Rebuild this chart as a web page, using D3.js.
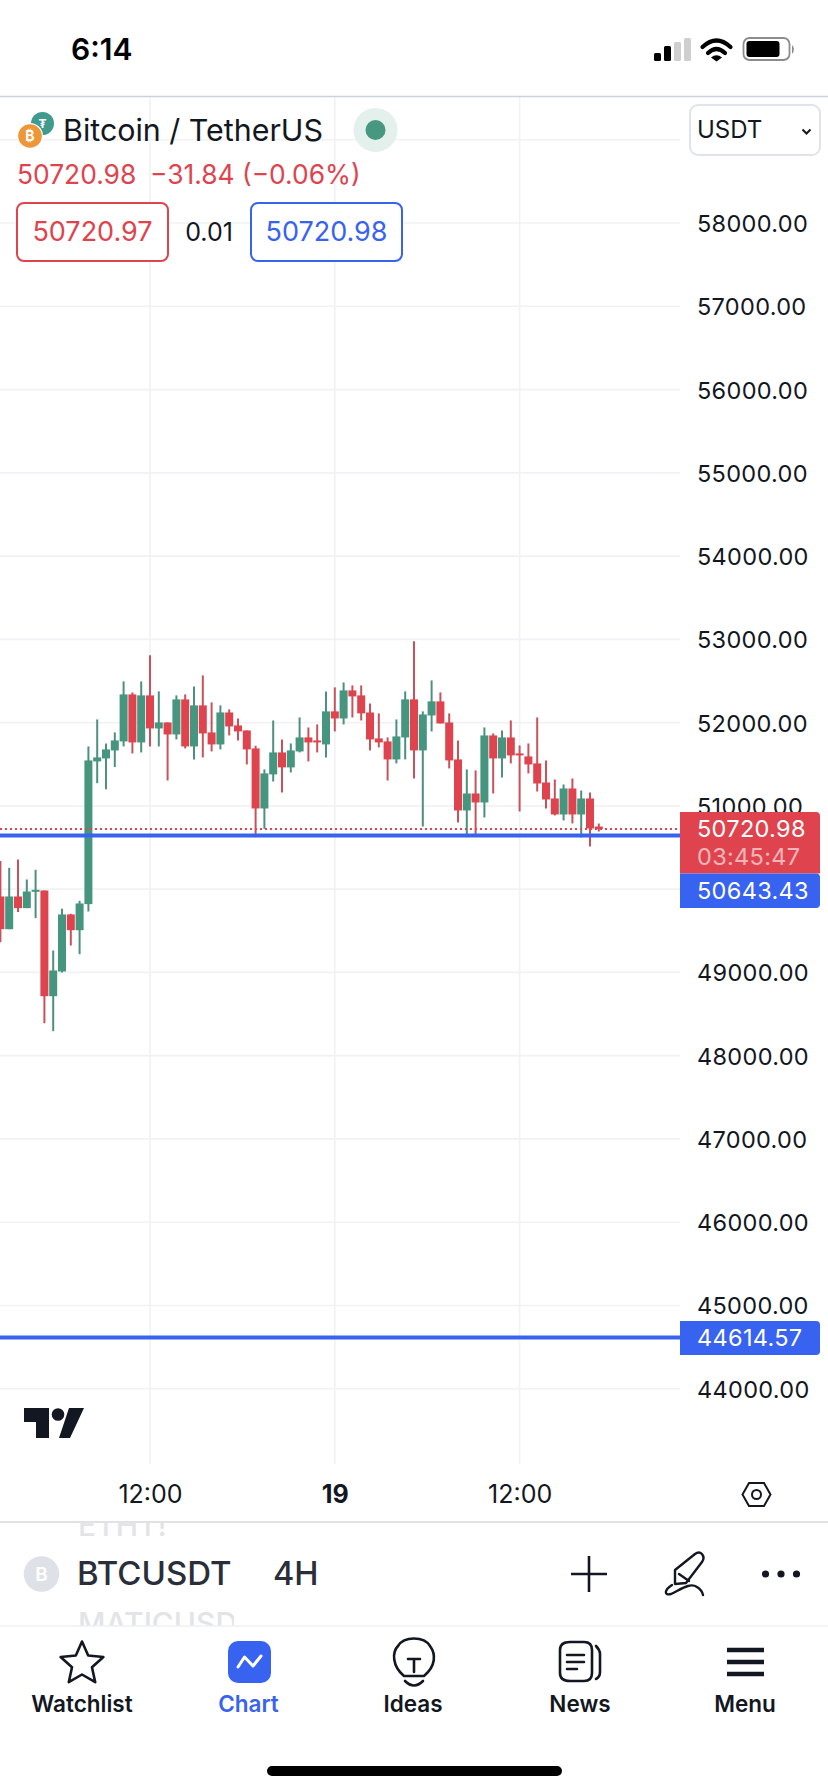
<!DOCTYPE html>
<html><head><meta charset="utf-8">
<script src="https://cdn.jsdelivr.net/npm/d3@7"></script>
<style>
html,body{margin:0;padding:0;background:#fff;overflow:hidden}
svg{display:block}
text{font-family:Inter,"Noto Sans",sans-serif}
</style></head><body>
<svg id="c" width="828" height="1792"></svg>
<script>
const priceTicks=[44000,45000,46000,47000,48000,49000,50000,51000,52000,53000,54000,55000,56000,57000,58000,59000];
const priceLabelMax=58000;
const timeTicks=[17,38,59];
const timeLabels={17:"12:00",38:"19",59:"12:00"};
const opens=[49912,49519,49912,49772,49976,49984,48714,49011,49696,49507,49820,51534,51570,51666,51774,52339,51762,52327,51930,52002,51858,52279,51714,52207,51882,51738,52122,51966,51906,51690,50969,51378,51642,51462,51654,51822,51786,51738,52135,52050,52387,52327,52122,51810,51774,51558,51822,52279,51666,52086,52255,52002,51558,50945,51149,51041,51846,51570,51822,51630,51594,51510,51281,51089,50897,51209,50897,51089,50752];
const closes=[49519,49912,49772,49972,49992,48714,49023,49696,49507,49828,51546,51582,51678,51786,52339,51762,52327,51930,52002,51858,52279,51714,52207,51870,51738,52122,51954,51894,51678,50969,51390,51642,51462,51666,51822,51762,51766,52135,52050,52387,52315,52111,51798,51762,51558,51834,52279,51666,52098,52255,51990,51546,50945,51149,51041,51846,51570,51822,51606,51610,51498,51269,51077,50897,51209,50897,51089,50728,50720.98];
const highs=[50337,50256,50357,50116,50232,49984,49263,49764,49704,49860,51714,52038,51750,51882,52495,52363,52495,52808,52375,52002,52327,52339,52435,52567,52243,52207,52159,52050,51906,51722,51438,52026,51798,51750,52062,51942,51978,52375,52423,52483,52447,52447,52231,52111,51822,52038,52375,52976,52135,52507,52363,52111,51786,51438,51426,51942,51870,51906,52026,51726,51750,52062,51546,51317,51257,51329,51185,51161,50788];
const lows=[49363,49519,49724,49772,49652,48390,48294,48999,49323,49219,49732,51273,51201,51466,51714,51630,51642,51714,51714,51305,51798,51690,51558,51582,51654,51678,51846,51786,51498,50624,50724,51293,51161,51401,51642,51534,51642,51582,51894,51978,52062,52026,51666,51702,51305,51510,51558,51329,50752,51894,51990,51450,50800,50624,50644,50861,51149,51341,51510,50933,51390,51173,50969,50885,50825,50789,50620,50512,50692];
const lastPrice=50720.98, alertHigh=50643.43, alertLow=44614.57;

const INK="#131722",GREEN="#46957f",RED="#df444e",WG="#4c907e",WR="#c8525b",BLUE="#3862f0",GRID="#f1f2f5";
const svg=d3.select("#c");
const x=d3.scaleLinear().domain([17,59]).range([150,519.6]);
const y=d3.scaleLinear().domain([44000,59000]).range([1388.7,139.8]);
const AX=680;
const idx=d3.range(opens.length);

// grid
svg.append("g").selectAll("line").data(priceTicks).join("line")
 .attr("x1",0).attr("x2",AX).attr("y1",d=>y(d)).attr("y2",d=>y(d)).attr("stroke",GRID).attr("stroke-width",1.6);
svg.append("g").selectAll("line").data(timeTicks).join("line")
 .attr("x1",d=>x(d)).attr("x2",d=>x(d)).attr("y1",97).attr("y2",1464).attr("stroke",GRID).attr("stroke-width",1.6);

// candles
const cg=svg.append("g");
cg.selectAll("line").data(idx).join("line")
 .attr("x1",i=>x(i)).attr("x2",i=>x(i)).attr("y1",i=>y(highs[i])).attr("y2",i=>y(lows[i]))
 .attr("stroke",i=>closes[i]>=opens[i]?WG:WR).attr("stroke-width",2);
cg.selectAll("rect").data(idx).join("rect")
 .attr("x",i=>x(i)-4).attr("width",8)
 .attr("y",i=>y(Math.max(opens[i],closes[i])))
 .attr("height",i=>Math.max(2,Math.abs(y(opens[i])-y(closes[i]))))
 .attr("fill",i=>closes[i]>=opens[i]?GREEN:RED);

// price lines
[alertHigh,alertLow].forEach(v=>svg.append("line").attr("x1",0).attr("x2",AX).attr("y1",y(v)).attr("y2",y(v)).attr("stroke",BLUE).attr("stroke-width",4));
svg.append("line").attr("x1",0).attr("x2",AX).attr("y1",y(lastPrice)).attr("y2",y(lastPrice)).attr("stroke",RED).attr("stroke-width",2).attr("stroke-dasharray","2 3");

// axes
const axY=svg.append("g").attr("transform",`translate(${AX},0)`)
 .call(d3.axisRight(y).tickValues(priceTicks.filter(d=>d<=priceLabelMax)).tickFormat(d3.format(".2f")).tickSize(0).tickPadding(17));
axY.select(".domain").remove();
axY.selectAll("text").attr("font-family","Inter").attr("font-size",23.5).attr("letter-spacing",".32").attr("fill",INK).attr("dy",".36em");
const axX=svg.append("g").attr("transform","translate(0,1478)")
 .call(d3.axisBottom(x).tickValues(timeTicks).tickFormat(d=>timeLabels[d]).tickSize(0).tickPadding(0));
axX.select(".domain").remove();
axX.selectAll("text").attr("font-family","Inter").attr("font-size",25).attr("fill",INK).attr("dy","25px")
 .attr("font-weight",d=>d===38?700:400);

function tag(top,h,color,r1){
 svg.append("path").attr("fill",color).attr("d",`M${AX} ${top}H816q4 0 4 4V${top+h-(r1?4:0)}${r1?"q0 4 -4 4":""}H${AX}Z`);
}
function txt(s,xx,yy,size,fill,opt={}){
 const t=svg.append("text").text(s).attr("x",xx).attr("y",yy).attr("font-size",size).attr("fill",fill);
 if(opt.anchor)t.attr("text-anchor",opt.anchor);
 if(opt.weight)t.attr("font-weight",opt.weight);
 if(opt.op)t.attr("opacity",opt.op);
 if(opt.clip)t.attr("clip-path",opt.clip);
 if(opt.ls)t.attr("letter-spacing",opt.ls);
 return t;
}
tag(812,61.5,RED,false);
tag(873.5,34.5,BLUE,true);
tag(y(alertLow)-16.5,34,BLUE,true);
const fmt=d3.format(".2f");
txt(fmt(lastPrice),697,837,23.5,"#fff",{ls:".32"});
txt("03:45:47",697,865,23.5,"#fff",{op:.6,ls:".32"});
txt(fmt(alertHigh),697,898.5,23.5,"#fff",{ls:".32"});
txt(fmt(alertLow),697,y(alertLow)+8,23.5,"#fff",{ls:".32"});

// status bar
txt("6:14",71,60,30,"#000",{weight:600});
[[654,53,7,8,"#000"],[664,46,7,15,"#000"],[674,42,7,19,"#cfcfcf"],[684,38,7,23,"#cfcfcf"]].forEach(b=>
 svg.append("rect").attr("x",b[0]).attr("y",b[1]).attr("width",b[2]).attr("height",b[3]).attr("rx",1.5).attr("fill",b[4]));
svg.append("g").attr("fill","none").attr("stroke","#000").attr("stroke-width",4.2).attr("stroke-linecap","round").selectAll("path")
 .data(["M702.5 47Q716.5 34 730.5 47","M708 53Q716.5 45 725 53"]).join("path").attr("d",d=>d);
svg.append("path").attr("d","M711 57.5Q716.5 53 722 57.5L716.5 61.5Z").attr("fill","#000");
svg.append("rect").attr("x",743.5).attr("y",38).attr("width",46).attr("height",22).attr("rx",6).attr("fill","none").attr("stroke","#8c8c8c").attr("stroke-width",1.8);
svg.append("rect").attr("x",746.5).attr("y",41).attr("width",33).attr("height",16).attr("rx",3).attr("fill","#000");
svg.append("path").attr("d","M792 45Q796 49 792 54Z").attr("fill","#8c8c8c");
svg.append("line").attr("x1",0).attr("x2",828).attr("y1",96.5).attr("y2",96.5).attr("stroke","#ccd1da").attr("stroke-width",1.4);

// header
svg.append("circle").attr("cx",42.5).attr("cy",123.5).attr("r",11.5).attr("fill","#3f9b8e");
txt("₮",42.5,128,12,"#fff",{anchor:"middle",weight:700});
svg.append("circle").attr("cx",30).attr("cy",136).attr("r",13).attr("fill","#fff");
svg.append("circle").attr("cx",30).attr("cy",136).attr("r",11.8).attr("fill","#ee9738");
txt("₿",30,141,14,"#fff",{anchor:"middle",weight:700});
txt("Bitcoin / TetherUS",63,141,30.4,INK);
svg.append("circle").attr("cx",375.5).attr("cy",130).attr("r",22).attr("fill","#e3f0ec");
svg.append("circle").attr("cx",375.5).attr("cy",130).attr("r",10).attr("fill","#489781");
svg.append("rect").attr("x",690).attr("y",105).attr("width",130).attr("height",50).attr("rx",8).attr("fill","#fff").attr("stroke","#e0e3eb").attr("stroke-width",2);
txt("USDT",697,138,24,INK);
svg.append("path").attr("d","M802.5 129.5L806.5 133.5L810.5 129.5").attr("fill","none").attr("stroke",INK).attr("stroke-width",2);
txt("50720.98",17,184,26.4,RED);
txt("−31.84 (−0.06%)",150,184,26.4,RED);
svg.append("rect").attr("x",17).attr("y",203).attr("width",151).attr("height",58).attr("rx",7).attr("fill","#fff").attr("stroke",RED).attr("stroke-width",2);
txt("50720.97",92.5,241,27,RED,{anchor:"middle"});
txt("0.01",209,241,25,INK,{anchor:"middle"});
svg.append("rect").attr("x",251).attr("y",203).attr("width",151).attr("height",58).attr("rx",7).attr("fill","#fff").attr("stroke",BLUE).attr("stroke-width",2);
txt("50720.98",326.5,241,27,BLUE,{anchor:"middle"});

// TV logo
svg.append("path").attr("fill",INK).attr("d","M24 1408H49V1438H36V1422H24Z");
svg.append("circle").attr("cx",58).attr("cy",1414.5).attr("r",6.3).attr("fill",INK);
svg.append("path").attr("fill",INK).attr("d","M69 1408H84L70 1438H59Z");

// hex settings
svg.append("path").attr("fill","none").attr("stroke",INK).attr("stroke-width",2).attr("d","M749 1483H764L770.5 1494.5L764 1506H749L742.5 1494.5Z");
svg.append("circle").attr("cx",756.5).attr("cy",1494.5).attr("r",4.5).attr("fill","none").attr("stroke",INK).attr("stroke-width",2);

// toolbar
svg.append("line").attr("x1",0).attr("x2",828).attr("y1",1522).attr("y2",1522).attr("stroke","#d6d8dd").attr("stroke-width",1.4);
const defs=svg.append("defs");
defs.append("clipPath").attr("id","c1").append("rect").attr("x",0).attr("y",1523).attr("width",828).attr("height",30);
defs.append("clipPath").attr("id","c2").append("rect").attr("x",0).attr("y",1600).attr("width",234).attr("height",26);
txt("ETHT!",78,1536,30,"#e2e4e8",{clip:"url(#c1)",weight:500});
txt("MATICUSDT",78,1634,30,"#e2e4e8",{clip:"url(#c2)",weight:500});
svg.append("line").attr("x1",0).attr("x2",828).attr("y1",1626).attr("y2",1626).attr("stroke","#eef0f3").attr("stroke-width",1.4);
svg.append("circle").attr("cx",41.5).attr("cy",1574).attr("r",17.8).attr("fill","#dfe1e8");
txt("B",41.5,1581,19,"#fff",{anchor:"middle",weight:600});
txt("BTCUSDT",77,1585,33,"#2a2e39",{weight:500});
txt("4H",273,1585,32.5,"#2a2e39",{weight:500});
svg.append("path").attr("fill","none").attr("stroke",INK).attr("stroke-width",2.6).attr("d","M571 1574H607M589 1556V1592");
svg.append("g").attr("fill","none").attr("stroke",INK).attr("stroke-width",2.4).attr("stroke-linecap","round").attr("stroke-linejoin","round").selectAll("path")
 .data(["M675 1570L695 1554Q699 1551 702 1554Q705 1558 702 1562L686 1583L675 1584Z","M679 1574L689 1581","M672 1585C664 1590 664 1596 671 1594C680 1590 690 1582 697 1587Q702 1590 703 1595"]).join("path").attr("d",d=>d);
[765.5,781,796.5].forEach(cx=>svg.append("circle").attr("cx",cx).attr("cy",1574).attr("r",3.6).attr("fill",INK));

// nav
const star=d3.range(10).map(i=>{const a=-Math.PI/2+i*Math.PI/5,r=i%2?10.5:22.5;return [82+r*Math.cos(a),1664+r*Math.sin(a)];});
svg.append("path").attr("d","M"+star.map(p=>p.join(",")).join("L")+"Z").attr("fill","none").attr("stroke",INK).attr("stroke-width",2.6).attr("stroke-linejoin","round");
svg.append("rect").attr("x",228).attr("y",1641).attr("width",43).attr("height",42).attr("rx",10).attr("fill",BLUE);
svg.append("path").attr("d","M238 1667L244.5 1657L253 1666L261 1656").attr("fill","none").attr("stroke","#fff").attr("stroke-width",3).attr("stroke-linejoin","round").attr("stroke-linecap","round");
const ng=svg.append("g").attr("fill","none").attr("stroke",INK).attr("stroke-width",2.6).attr("stroke-linecap","round").attr("stroke-linejoin","round");
["M404 1676C392 1666 392 1652 398 1646C404 1636 424 1636 430 1646C436 1654 436 1666 424 1676H404Z",
 "M408 1659H420M414 1659V1672","M405 1681Q414 1690 423 1681",
 "M570 1642H584Q592 1642 592 1650V1673Q592 1681 584 1681H570Q560 1681 560 1673V1650Q560 1642 570 1642Z",
 "M596 1646Q600 1650 600 1654V1672Q600 1677 596 1679",
 "M567 1655H584M567 1662H584M567 1669H577"].forEach(d=>ng.append("path").attr("d",d));
[1650,1662,1674].forEach(yy=>svg.append("line").attr("x1",727).attr("x2",764).attr("y1",yy).attr("y2",yy).attr("stroke",INK).attr("stroke-width",4.4));
[["Watchlist",82,INK],["Chart",248.5,BLUE],["Ideas",413,INK],["News",580,INK],["Menu",745,INK]].forEach(n=>
 txt(n[0],n[1],1712,22.5,n[2],{anchor:"middle",weight:600}));
svg.append("rect").attr("x",267).attr("y",1766).attr("width",295).attr("height",10).attr("rx",5).attr("fill","#000");
</script>
</body></html>
